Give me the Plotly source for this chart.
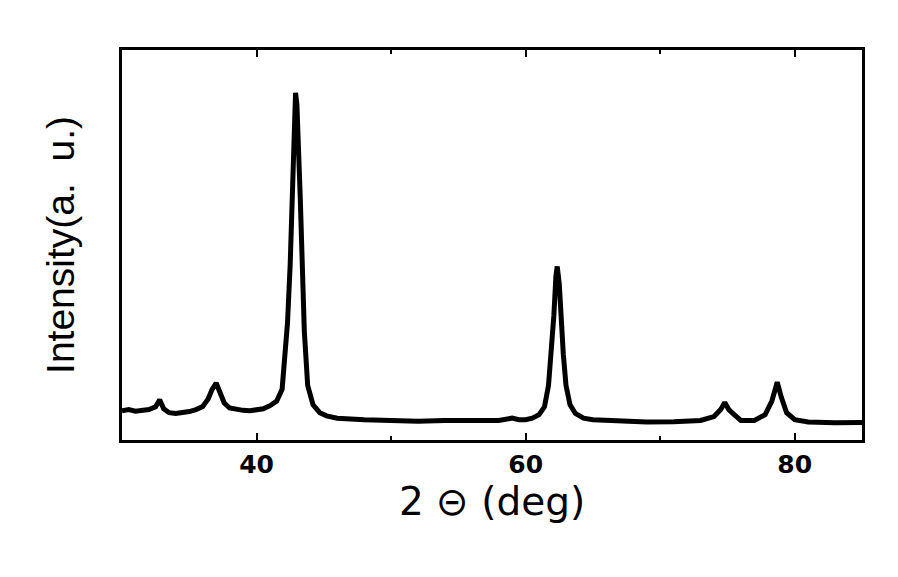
import plotly.graph_objects as go

two_theta = [
    30, 30.5, 31, 31.5, 32, 32.5, 32.8, 33.1, 33.5, 34, 34.5, 35, 35.5, 36,
    36.4, 36.7, 37.0, 37.3, 37.6, 38, 38.5, 39, 39.5, 40, 40.5, 41, 41.5,
    41.9, 42.1, 42.3, 42.5, 42.65, 42.8, 42.9, 43.0, 43.1, 43.25, 43.4,
    43.55, 43.8, 44.2, 44.7, 45.2, 46, 47, 48, 50, 52, 54, 56, 58, 59,
    59.5, 60, 60.5, 61.0, 61.4, 61.7, 61.9, 62.1, 62.25, 62.35, 62.5,
    62.65, 62.8, 63.0, 63.3, 63.7, 64.3, 65, 67, 69, 71, 73, 74, 74.5,
    74.8, 75.1, 75.5, 76, 77, 77.8, 78.3, 78.7, 79.0, 79.4, 80, 81, 83, 85,
]
intensity = [
    7.5, 7.8, 7.4, 7.6, 7.8, 8.5, 10.3, 8.0, 7.0, 6.8, 7.0, 7.3, 7.8, 8.6,
    10.5, 13.0, 14.6, 12.0, 9.5, 8.2, 7.8, 7.6, 7.5, 7.6, 8.0, 8.8, 10.0,
    13.0, 20.0, 30.0, 45.0, 62.0, 82.0, 89.0, 86.0, 72.0, 62.0, 45.0,
    28.0, 14.0, 9.0, 7.0, 6.2, 5.6, 5.3, 5.2, 5.0, 4.8, 5.0, 4.9, 5.0, 5.6,
    5.2, 5.2, 5.6, 6.5, 8.5, 14.0, 22.0, 32.0, 42.0, 44.5, 40.0,
    30.0, 22.0, 14.0, 9.0, 6.8, 5.6, 5.2, 4.8, 4.6, 4.7, 5.0, 6.0, 7.8,
    9.6, 7.8, 6.5, 5.0, 5.0, 6.5, 10.0, 14.8, 11.0, 7.0, 5.2, 4.6, 4.4, 4.5,
]
x_ticks = [40, 60, 80]

fig = go.Figure()
fig.add_trace(go.Scatter(
    x=two_theta, y=intensity, mode="lines",
    line=dict(color="black", width=5),
    showlegend=False, hoverinfo="skip",
))

# page body adds ~8px offset, margins compensate for it
fig.update_layout(
    width=898, height=577,
    margin=dict(l=114, r=44, t=42, b=145),
    paper_bgcolor="white", plot_bgcolor="white",
    xaxis=dict(
        range=[30, 85], tickvals=x_ticks, ticks="inside", ticklen=7,
        tickwidth=2, tickcolor="black", showline=True, linewidth=3,
        linecolor="black", mirror="ticks", showgrid=False, zeroline=False,
        ticklabelstandoff=0,
        tickfont=dict(family="DejaVu Sans", size=25, color="black", weight="bold"),
        minor=dict(dtick=10, tick0=30, ticks="inside", ticklen=4,
                   tickwidth=2, tickcolor="black", showgrid=False),
        title=dict(text="2 \u229d (deg)", standoff=4,
                   font=dict(family="DejaVu Sans", size=39, color="black")),
    ),
    yaxis=dict(
        range=[0, 100], showticklabels=False, ticks="", showline=True,
        linewidth=3, linecolor="black", mirror=True, showgrid=False,
        zeroline=False,
        title=dict(text="Intensity(a.  u.)", standoff=33,
                   font=dict(family="Liberation Sans", size=39, color="black")),
    ),
)

fig.write_html("out.html")
